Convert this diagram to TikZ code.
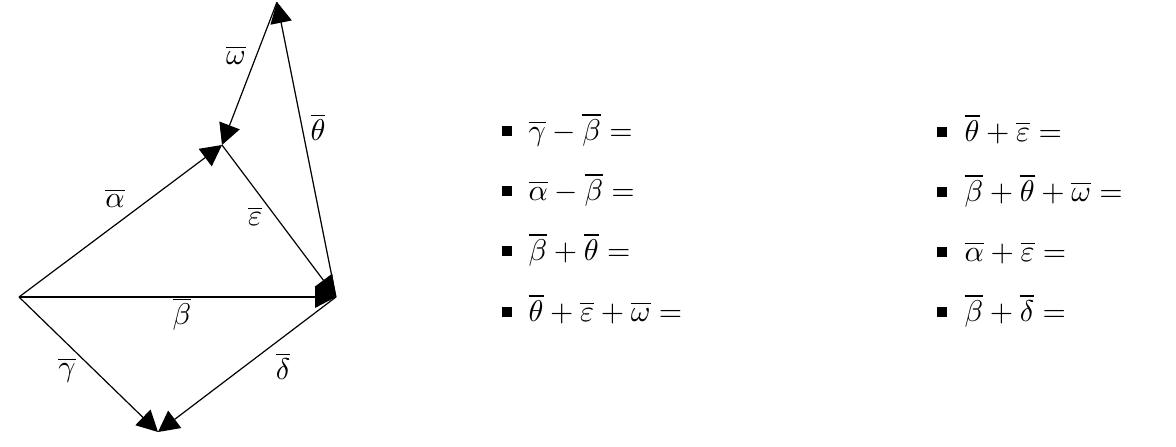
\documentclass[tikz,border=0pt]{standalone}
\usepackage{amsmath}
\usetikzlibrary{arrows.meta}
\begin{document}
\begin{tikzpicture}[x=0.33333pt,y=-0.33333pt,
  vec/.style={line width=0.4pt,-{Triangle[length=7pt,width=7.2pt]}},
  lab/.style={inner sep=0pt,font=\fontsize{10}{12}\selectfont},
  itm/.style={inner sep=0pt,anchor=base west,font=\fontsize{10}{12}\selectfont},
  bul/.style={fill=black,inner sep=0pt,minimum size=3.33pt}]
\useasboundingbox (0,0) rectangle (1176,446);
\coordinate (O) at (19,297);
\coordinate (A) at (222,145);
\coordinate (B) at (336,297);
\coordinate (T) at (277,2);
\coordinate (C) at (158,432);
\draw[vec] (O) -- (A);
\draw[vec] (O) -- (B);
\draw[vec] (O) -- (C);
\draw[vec] (A) -- (B);
\draw[vec] (B) -- (C);
\draw[vec] (B) -- (T);
\draw[vec] (T) -- (A);
\node[lab] (lw) at (236,55) {$\overline{\omega}$};
\node[lab] (lt) at (318,127) {$\overline{\theta}$};
\node[lab] (la) at (115,198) {$\overline{\alpha}$};
\node[lab] (le) at (255,216) {$\overline{\varepsilon}$};
\node[lab] (lb) at (182,314) {$\overline{\beta}$};
\node[lab] (lg) at (67,370) {$\overline{\gamma}$};
\node[lab] (ld) at (283,366) {$\overline{\delta}$};
% left list
\node[bul] (b1) at (507,131) {};
\node[bul] (b2) at (507,191) {};
\node[bul] (b3) at (507,251) {};
\node[bul] (b4) at (507,312) {};
\node[itm] (t1) at (528,140) {$\overline{\gamma}-\overline{\beta}=$};
\node[itm] (t2) at (528,200) {$\overline{\alpha}-\overline{\beta}=$};
\node[itm] (t3) at (528,260) {$\overline{\beta}+\overline{\theta}=$};
\node[itm] (t4) at (528,321) {$\overline{\theta}+\overline{\varepsilon}+\overline{\omega}=$};
% right list
\node[bul] (c1) at (942,132) {};
\node[bul] (c2) at (942,192) {};
\node[bul] (c3) at (942,252) {};
\node[bul] (c4) at (942,312) {};
\node[itm] (s1) at (964,141) {$\overline{\theta}+\overline{\varepsilon}=$};
\node[itm] (s2) at (964,201) {$\overline{\beta}+\overline{\theta}+\overline{\omega}=$};
\node[itm] (s3) at (964,261) {$\overline{\alpha}+\overline{\varepsilon}=$};
\node[itm] (s4) at (964,321) {$\overline{\beta}+\overline{\delta}=$};
\end{tikzpicture}
\end{document}
